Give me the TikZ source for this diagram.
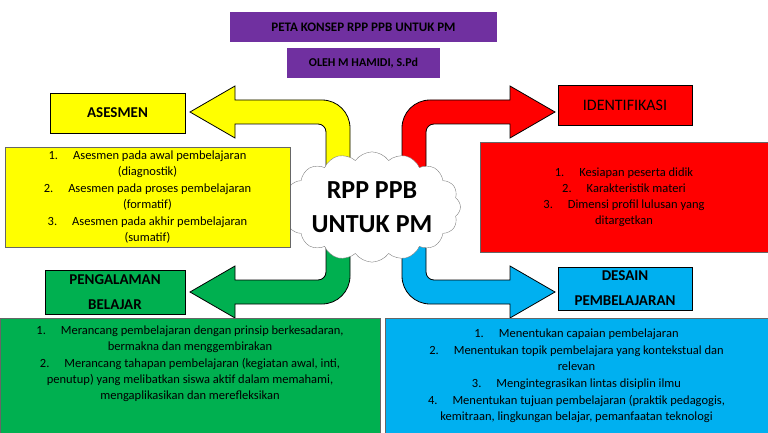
\documentclass[tikz,border=0pt]{standalone}
\usepackage{fontspec}
\setmainfont{Carlito}
\usetikzlibrary{shapes.symbols}
\definecolor{pur}{HTML}{7030A0}
\definecolor{yel}{HTML}{FFFF00}
\definecolor{rd}{HTML}{FF0000}
\definecolor{gr}{HTML}{00B050}
\definecolor{bl}{HTML}{00B0F0}
\tikzset{
 lbl/.style={draw=black,line width=0.6pt,inner sep=0pt,font=\bfseries\fontsize{15}{17}\selectfont,align=center},
 lst/.style={draw=black!60,line width=0.5pt,inner sep=0pt,font=\fontsize{12.5}{16}\selectfont},
 arr/.style={draw=black,line width=0.8pt},
}
\begin{document}
\begin{tikzpicture}[x=1pt,y=-1pt]
\useasboundingbox (0,0) rectangle (768,433);
% titles
\node[fill=pur,minimum width=267,minimum height=30,inner sep=0pt,font=\bfseries\fontsize{13}{15}\selectfont] (t1) at (363.5,27) {PETA KONSEP RPP PPB UNTUK PM};
\node[fill=pur,minimum width=153,minimum height=30,inner sep=0pt,font=\bfseries\fontsize{12}{14}\selectfont] (t2) at (363.5,63) {OLEH M HAMIDI, S.Pd};
% arrows
\filldraw[arr,fill=yel] (326,175) [rounded corners=8] -- (326,124) [sharp corners] -- (235,124) -- (235,138) -- (190,112) -- (235,86) -- (235,100) [rounded corners=28] -- (350,100) [sharp corners] -- (350,175) -- cycle;
\filldraw[arr,fill=rd] (426,175) [rounded corners=8] -- (426,124) [sharp corners] -- (510,124) -- (510,138) -- (555,112) -- (510,86) -- (510,100) [rounded corners=28] -- (402,100) [sharp corners] -- (402,175) -- cycle;
\filldraw[arr,fill=gr] (326,235) [rounded corners=8] -- (326,280) [sharp corners] -- (235,280) -- (235,266) -- (190,292) -- (235,318) -- (235,304) [rounded corners=28] -- (350,304) [sharp corners] -- (350,235) -- cycle;
\filldraw[arr,fill=bl] (426,235) [rounded corners=8] -- (426,280) [sharp corners] -- (510,280) -- (510,266) -- (555,292) -- (510,318) -- (510,304) [rounded corners=28] -- (402,304) [sharp corners] -- (402,235) -- cycle;
% cloud
\node[cloud,cloud puffs=16,cloud puff arc=110,aspect=1.8,draw=black!50,fill=white,minimum width=175,minimum height=97,inner sep=0pt,align=center,font=\bfseries\fontsize{26}{34}\selectfont] (c) at (372,207) {RPP PPB\\UNTUK PM};
% labels
\node[lbl,fill=yel,minimum width=135,minimum height=40] (a) at (117.5,113) {ASESMEN};
\node[lbl,fill=rd,minimum width=134,minimum height=40,font=\fontsize{16}{18}\selectfont] (i) at (625,105) {IDENTIFIKASI};
\node[lbl,fill=gr,minimum width=140,minimum height=44,font=\bfseries\fontsize{15}{25}\selectfont] (p) at (115,292) {PENGALAMAN\\BELAJAR};
\node[lbl,fill=bl,minimum width=134,minimum height=43,font=\bfseries\fontsize{15}{25}\selectfont] (d) at (625,288.5) {DESAIN\\PEMBELAJARAN};
% lists
\node[lst,fill=yel,minimum width=285,minimum height=100,align=center] (la) at (147.5,197) {%
1.\hspace{1.2em}Asesmen pada awal pembelajaran\\(diagnostik)\\[1pt]
2.\hspace{1.2em}Asesmen pada proses pembelajaran\\(formatif)\\[1pt]
3.\hspace{1.2em}Asesmen pada akhir pembelajaran\\(sumatif)};
\node[lst,fill=rd,minimum width=288,minimum height=110,align=center] (li) at (624,197) {%
1.\hspace{1.2em}Kesiapan peserta didik\\
2.\hspace{1.2em}Karakteristik materi\\
3.\hspace{1.2em}Dimensi profil lulusan yang\\ditargetkan};
\node[lst,fill=gr,minimum width=380,minimum height=115,align=center] (lp) at (190,375.5) {%
1.\hspace{1.2em}Merancang pembelajaran dengan prinsip berkesadaran,\\bermakna dan menggembirakan\\[1pt]
2.\hspace{1.2em}Merancang tahapan pembelajaran (kegiatan awal, inti,\\penutup) yang melibatkan siswa aktif dalam memahami,\\mengaplikasikan dan merefleksikan\\[10pt]};
\node[lst,fill=bl,minimum width=383,minimum height=115,align=center] (ld) at (576.5,375.5) {%
1.\hspace{1.2em}Menentukan capaian pembelajaran\\[1pt]
2.\hspace{1.2em}Menentukan topik pembelajara yang kontekstual dan\\relevan\\[1pt]
3.\hspace{1.2em}Mengintegrasikan lintas disiplin ilmu\\[1pt]
4.\hspace{1.2em}Menentukan tujuan pembelajaran (praktik pedagogis,\\kemitraan, lingkungan belajar, pemanfaatan teknologi};
\end{tikzpicture}
\end{document}
